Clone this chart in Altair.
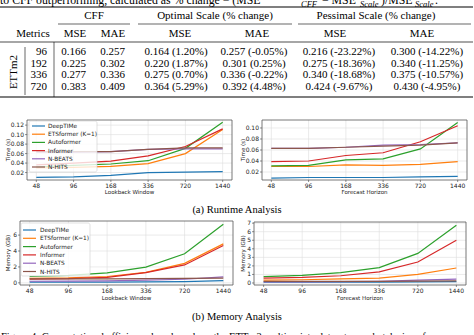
import altair as alt
import pandas as pd

W, H = 474, 335
SANS = "DejaVu Sans"
SERIF = "Liberation Serif"

# ------------------------------------------------------------------ data
group_headers = ["CFF", "Optimal Scale (% change)", "Pessimal Scale (% change)"]
metric_headers = ["Metrics", "MSE", "MAE", "MSE", "MAE", "MSE", "MAE"]
dataset_name = "ETTm2"
horizons = ["96", "192", "336", "720"]
cff_mse = [0.166, 0.225, 0.277, 0.383]
cff_mae = [0.257, 0.302, 0.336, 0.409]
opt_mse = [0.164, 0.220, 0.275, 0.364]
opt_mse_pct = [1.20, 1.87, 0.70, 5.29]
opt_mae = [0.257, 0.301, 0.336, 0.392]
opt_mae_pct = [-0.05, 0.25, -0.22, 4.48]
pes_mse = [0.216, 0.275, 0.340, 0.424]
pes_mse_pct = [-23.22, -18.36, -18.68, -9.67]
pes_mae = [0.300, 0.340, 0.375, 0.430]
pes_mae_pct = [-14.22, -11.25, -10.57, -4.95]

x_lengths = ["48", "96", "168", "336", "720", "1440"]
models = ["DeepTIMe", "ETSformer (K=1)", "Autoformer", "Informer", "N-BEATS", "N-HITS"]
colors = ["#1f77b4", "#ff7f0e", "#2ca02c", "#d62728", "#9467bd", "#8c564b"]

time_lookback = {
    "DeepTIMe":        [0.010, 0.011, 0.014, 0.020, 0.021, 0.022],
    "ETSformer (K=1)": [0.030, 0.031, 0.033, 0.039, 0.060, 0.111],
    "Autoformer":      [0.032, 0.035, 0.038, 0.045, 0.071, 0.126],
    "Informer":        [0.036, 0.040, 0.044, 0.055, 0.075, 0.112],
    "N-BEATS":         [0.063, 0.063, 0.064, 0.069, 0.070, 0.070],
    "N-HITS":          [0.064, 0.064, 0.064, 0.069, 0.072, 0.072],
}
time_horizon = {
    "DeepTIMe":        [0.009, 0.010, 0.010, 0.010, 0.011, 0.012],
    "ETSformer (K=1)": [0.030, 0.030, 0.033, 0.032, 0.034, 0.039],
    "Autoformer":      [0.031, 0.032, 0.042, 0.044, 0.062, 0.110],
    "Informer":        [0.039, 0.040, 0.050, 0.055, 0.075, 0.104],
    "N-BEATS":         [0.063, 0.063, 0.065, 0.069, 0.070, 0.073],
    "N-HITS":          [0.063, 0.063, 0.065, 0.067, 0.069, 0.073],
}
mem_lookback = {
    "DeepTIMe":        [0.08, 0.09, 0.10, 0.12, 0.15, 0.27],
    "ETSformer (K=1)": [0.55, 0.62, 0.80, 1.32, 2.45, 4.90],
    "Autoformer":      [0.80, 0.95, 1.25, 1.97, 3.65, 7.35],
    "Informer":        [0.45, 0.52, 0.70, 1.28, 2.25, 4.70],
    "N-BEATS":         [0.20, 0.21, 0.25, 0.33, 0.45, 0.75],
    "N-HITS":          [0.50, 0.50, 0.50, 0.52, 0.55, 0.60],
}
mem_horizon = {
    "DeepTIMe":        [0.10, 0.10, 0.10, 0.11, 0.12, 0.15],
    "ETSformer (K=1)": [0.33, 0.38, 0.47, 0.57, 1.00, 1.75],
    "Autoformer":      [0.75, 0.90, 1.22, 1.80, 3.46, 6.75],
    "Informer":        [0.58, 0.65, 0.85, 1.30, 2.45, 5.00],
    "N-BEATS":         [0.12, 0.13, 0.16, 0.20, 0.33, 0.45],
    "N-HITS":          [0.18, 0.18, 0.19, 0.20, 0.22, 0.25],
}

time_ticks = [0.02, 0.04, 0.06, 0.08, 0.10, 0.12]
time_ticks_h = [0.02, 0.04, 0.06, 0.08, 0.10]
mem_ticks_l = [0, 2, 4, 6]
mem_ticks_h = [0, 1, 2, 3, 4, 5, 6, 7]

caption_a = "(a) Runtime Analysis"
caption_b = "(b) Memory Analysis"
top_caption = [("to CFF outperforming, calculated as % change = (MSE", 0, 3.5, 11.8, "normal"),
               ("CFF", 301, 6.5, 8.5, "italic"), ("\u2212 MSE", 322, 3.5, 11.8, "normal"),
               ("Scale", 360, 6.5, 8.5, "italic"), (")/MSE", 381, 3.5, 11.8, "normal"),
               ("Scale", 415, 6.5, 8.5, "italic"), (".", 435, 3.5, 11.8, "normal")]
bottom_caption = "Figure 4: Computational efficiency benchmark on the ETTm2 multivariate dataset, on a batch size of"

# ------------------------------------------------------------------ layout
TFS = 11
T_GROUP_X = [94, 215, 376]
T_GROUP_Y = 16
T_METRIC_X = [33, 75, 113, 180, 257, 335, 422]
T_METRIC_Y = 34
T_COL_X = [73.5, 112.5, 176, 254, 339, 427]
T_ROW_Y = [52, 63.5, 75.3, 87]
T_LABEL_X = 47
T_RULES = [  # x0, x1, y0, y1, width
    (0, 473, 7, 7, 1.1), (58, 130, 24, 24, 0.6), (138, 292, 24, 24, 0.6),
    (298, 471, 24, 24, 0.6), (0, 473, 42, 42, 0.7), (0, 473, 97, 97, 1.1),
    (25, 25, 47, 95, 0.6), (54, 54, 42, 97, 0.6),
]

GRID = "#dddddd"
FRAME = "#555555"
TXT = "#222222"
TICK_FS = 6
TITLE_FS = 5.5
LEG_FS = 5.8


def panel(series, ydom, yticks, yfmt, geom, xtitle, ytitle, ytitle_x, xlab_y, xtitle_y):
    L, R, T, B = geom
    rows = []
    for m in models:
        for i, (c, v) in enumerate(zip(x_lengths, series[m])):
            rows.append({"x": c, "i": i, "m": m, "v": v})
    df = pd.DataFrame(rows)
    xs = alt.Scale(type="point", domain=x_lengths, range=[L, R], padding=0.25)
    ys = alt.Scale(domain=ydom, range=[B, T], nice=False, zero=False)
    xdf = pd.DataFrame({"x": x_lengths})
    ydf = pd.DataFrame({"v": yticks})
    X = alt.X("x:N", scale=xs, axis=None)
    Y = alt.Y("v:Q", scale=ys, axis=None)

    xgrid = alt.Chart(xdf).mark_rule(color=GRID, strokeWidth=0.6).encode(
        x=X, y=alt.value(T), y2=alt.value(B))
    ygrid = alt.Chart(ydf).mark_rule(color=GRID, strokeWidth=0.6).encode(
        y=Y, x=alt.value(L), x2=alt.value(R))
    lines = alt.Chart(df).mark_line(strokeWidth=1.2).encode(
        x=X, y=Y,
        color=alt.Color("m:N", scale=alt.Scale(domain=models, range=colors), legend=None),
        order=alt.Order("i:Q"),
    )
    frame = alt.Chart(pd.DataFrame({"a": [0]})).mark_rect(
        fillOpacity=0, stroke=FRAME, strokeWidth=0.8).encode(
        x=alt.value(L), x2=alt.value(R), y=alt.value(T), y2=alt.value(B))
    xticks = alt.Chart(xdf).mark_rule(color="#444444", strokeWidth=0.6).encode(
        x=X, y=alt.value(B), y2=alt.value(B + 2))
    yticks_m = alt.Chart(ydf).mark_rule(color="#444444", strokeWidth=0.6).encode(
        y=Y, x=alt.value(L - 2), x2=alt.value(L))
    xlabels = alt.Chart(xdf).mark_text(font=SANS, fontSize=TICK_FS, color=TXT,
                                       baseline="middle", align="center").encode(
        x=X, y=alt.value(xlab_y), text="x:N")
    ylabels = alt.Chart(ydf).mark_text(font=SANS, fontSize=TICK_FS, color=TXT,
                                       baseline="middle", align="right").encode(
        y=Y, x=alt.value(L - 3), text=alt.Text("v:Q", format=yfmt))
    xt = alt.Chart(pd.DataFrame({"t": [xtitle]})).mark_text(
        font=SANS, fontSize=TITLE_FS, color=TXT, baseline="middle", align="center").encode(
        x=alt.value((L + R) / 2), y=alt.value(xtitle_y), text="t:N")
    yt = alt.Chart(pd.DataFrame({"t": [ytitle]})).mark_text(
        font=SANS, fontSize=TITLE_FS, color=TXT, baseline="middle", align="center",
        angle=270).encode(
        x=alt.value(ytitle_x), y=alt.value((T + B) / 2), text="t:N")
    return alt.layer(xgrid, ygrid, lines, frame, xticks, yticks_m, xlabels, ylabels, xt, yt)


def legend(box, yrange, sx, tx):
    x0, x1, y0, y1 = box
    df = pd.DataFrame({"m": models})
    yl = alt.Scale(type="point", domain=models, range=yrange, padding=0)
    bx = alt.Chart(pd.DataFrame({"a": [0]})).mark_rect(
        fill="white", fillOpacity=0.8, stroke="#cccccc", strokeWidth=0.6,
        cornerRadius=2).encode(x=alt.value(x0), x2=alt.value(x1),
                               y=alt.value(y0), y2=alt.value(y1))
    samp = alt.Chart(df).mark_rule(strokeWidth=1.2).encode(
        x=alt.value(sx[0]), x2=alt.value(sx[1]),
        y=alt.Y("m:N", scale=yl, axis=None),
        color=alt.Color("m:N", scale=alt.Scale(domain=models, range=colors), legend=None))
    txt = alt.Chart(df).mark_text(align="left", baseline="middle", font=SANS,
                                  fontSize=LEG_FS, color=TXT).encode(
        x=alt.value(tx), y=alt.Y("m:N", scale=yl, axis=None), text="m:N")
    return alt.layer(bx, samp, txt)


# ------------------------------------------------------------------ table
cells = []
for t, x in zip(group_headers, T_GROUP_X):
    cells.append({"t": t, "x": x, "y": T_GROUP_Y})
for t, x in zip(metric_headers, T_METRIC_X):
    cells.append({"t": t, "x": x, "y": T_METRIC_Y})
cols = [
    [f"{v:.3f}" for v in cff_mse],
    [f"{v:.3f}" for v in cff_mae],
    [f"{v:.3f} ({p:.2f}%)" for v, p in zip(opt_mse, opt_mse_pct)],
    [f"{v:.3f} ({p:.2f}%)" for v, p in zip(opt_mae, opt_mae_pct)],
    [f"{v:.3f} ({p:.2f}%)" for v, p in zip(pes_mse, pes_mse_pct)],
    [f"{v:.3f} ({p:.2f}%)" for v, p in zip(pes_mae, pes_mae_pct)],
]
for ci, col in enumerate(cols):
    for ri, t in enumerate(col):
        cells.append({"t": t, "x": T_COL_X[ci], "y": T_ROW_Y[ri]})

table_text = alt.Chart(pd.DataFrame(cells)).mark_text(
    font=SERIF, fontSize=TFS, baseline="middle", align="center", color="black").encode(
    x=alt.X("x:Q", scale=None, axis=None), y=alt.Y("y:Q", scale=None, axis=None), text="t:N")
row_labels = alt.Chart(pd.DataFrame({"t": horizons, "y": T_ROW_Y})).mark_text(
    font=SERIF, fontSize=TFS, baseline="middle", align="right", color="black").encode(
    x=alt.value(T_LABEL_X), y=alt.Y("y:Q", scale=None, axis=None), text="t:N")
ds_label = alt.Chart(pd.DataFrame({"t": [dataset_name]})).mark_text(
    font=SERIF, fontSize=TFS, baseline="middle", align="center", angle=270,
    color="black").encode(x=alt.value(14), y=alt.value(72), text="t:N")
rules_df = pd.DataFrame(T_RULES, columns=["x0", "x1", "y0", "y1", "w"])
table_rules = alt.Chart(rules_df).mark_rule(color="black").encode(
    x=alt.X("x0:Q", scale=None, axis=None), x2="x1:Q",
    y=alt.Y("y0:Q", scale=None, axis=None), y2="y1:Q",
    strokeWidth=alt.StrokeWidth("w:Q", scale=None, legend=None))
cap_df = pd.DataFrame(top_caption, columns=["t", "x", "y", "s", "st"])
top_layers = []
for style in ["normal", "italic"]:
    top_layers.append(alt.Chart(cap_df[cap_df["st"] == style]).mark_text(
        font=SERIF, align="left", baseline="alphabetic", color="black",
        fontStyle=style).encode(
        x=alt.X("x:Q", scale=None, axis=None), y=alt.Y("y:Q", scale=None, axis=None),
        text="t:N", size=alt.Size("s:Q", scale=None, legend=None)))
table = alt.layer(table_rules, table_text, row_labels, ds_label, *top_layers)


# ------------------------------------------------------------------ captions
def caption(t, y, x=237, align="center", baseline="middle"):
    return alt.Chart(pd.DataFrame({"t": [t]})).mark_text(
        font=SERIF, fontSize=10.5, align=align, baseline=baseline, color="black").encode(
        x=alt.value(x), y=alt.value(y), text="t:N")


cap_a = caption(caption_a, 210)
cap_b = caption(caption_b, 317)
cap_fig = caption(bottom_caption, 340, x=1, align="left", baseline="alphabetic")

# ------------------------------------------------------------------ panels
p_tl = panel(time_lookback, [0.0043, 0.1308], time_ticks, ".2f", (27, 232, 120, 180),
             "Lookback Window", "Time (s)", 7.5, 186, 192)
p_tr = panel(time_horizon, [0.0055, 0.1145], time_ticks_h, ".2f", (262, 467, 120, 180),
             "Forecast Horizon", "Time (s)", 243, 186, 192)
p_bl = panel(mem_lookback, [-0.27, 7.77], mem_ticks_l, "d", (20, 233, 221, 285),
             "Lookback Window", "Memory (GB)", 8, 291, 298)
p_br = panel(mem_horizon, [-0.235, 7.135], mem_ticks_h, "d", (254, 466, 222, 285),
             "Forecast Horizon", "Memory (GB)", 243, 291, 298)
lg_tl = legend((29, 97, 121, 172), [126, 167], (32, 45), 48)
lg_bl = legend((21, 90, 223, 276), [230, 271.5], (23, 36), 40)

chart = alt.layer(
    table, p_tl, p_tr, p_bl, p_br, lg_tl, lg_bl, cap_a, cap_b, cap_fig
).resolve_scale(
    x="independent", y="independent", color="independent"
).properties(
    width=W, height=H, autosize=alt.AutoSizeParams(type="none"), padding=0,
    background="white"
).configure_view(strokeWidth=0)

chart.save("out.html", embed_options={"renderer": "svg", "actions": False})
